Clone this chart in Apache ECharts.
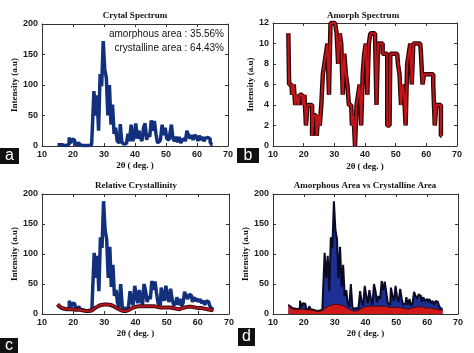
<!DOCTYPE html>
<html>
<head>
<meta charset="utf-8">
<script src="https://cdn.jsdelivr.net/npm/echarts@6/dist/echarts.min.js"></script>
<style>
html,body{margin:0;padding:0;background:#fff}
#main{width:474px;height:353px}
</style>
</head>
<body>
<div id="main"></div>
<script>
// sampling grid in 2-theta (deg.)
var deg = [
    15,15.5,16,16.5,17,17.5,18,18.5,19,19.5,
    20,20.5,21,21.5,22,22.5,23,23.5,24,24.5,
    25,25.5,26,26.5,27,27.5,28,28.5,29,29.5,
    30,30.5,31,31.5,32,32.5,33,33.5,34,34.5,
    35,35.5,36,36.5,37,37.5,38,38.5,39,39.5,
    40,40.5,41,41.5,42,42.5,43,43.5,44,44.5,
    45,45.5,46,46.5,47,47.5,48,48.5,49,49.5,
    50,50.5,51,51.5,52,52.5,53,53.5,54,54.5,
    55,55.5,56,56.5,57,57.5,58,58.5,59,59.5,
    60,60.5,61,61.5,62,62.5,63,63.5,64,64.5,
    65
];
// (a) crystal spectrum
var crystal = [
    2,2,2,2,1,2,1,3,14,5,
    11,10,2,2,6,2,1,1,2,1,
    1,1,2,30,90,50,83,25,118,98,
    172,125,112,50,100,35,68,20,30,8,
    5,36,6,3,4,3,20,8,35,8,
    15,37,12,25,14,8,30,37,10,20,
    15,42,25,41,20,5,8,12,35,18,
    30,12,10,20,35,12,8,15,6,15,
    5,10,12,8,25,18,12,18,10,18,
    15,8,17,10,15,8,13,14,12,6,
    2
];
// (b) amorph spectrum
var amorph = [
    11,6,6,5,6,4,5,4,5,5,
    4,5,2,4,4,4,1,3,3,1,
    3,2,4,7,8,9,10,5,12,12,
    12,12,11,8,11,10,5,9,7,6,
    4,4,2,3,0,4,5,6,2,7,
    9,10,5,10,11,11,11,11,4,10,
    10,10,9,9,9,2,2,9,9,9,
    9,9,8,7,4,6,5,2,8,9,
    10,6,10,10,10,10,10,9,6,7,
    7,7,7,7,7,6,2,4,4,4,
    1
];
// (c),(d) measured spectrum
var total = [
    15,12,10,9,9,8,8,10,22,12,
    18,17,9,8,13,8,7,6,6,5,
    6,5,7,40,102,60,97,38,128,110,
    188,140,125,60,112,45,82,30,40,18,
    12,50,12,8,10,8,12,38,20,15,
    47,30,18,40,25,15,50,38,20,30,
    25,55,40,54,35,18,15,44,30,22,
    47,28,20,42,25,15,18,28,15,25,
    14,18,37,30,25,33,30,20,28,22,
    25,20,25,18,22,15,22,20,15,10,
    8
];
// (c),(d) amorphous baseline
var degBase = [
    15,16,17,18,19,20,21,22,23,24,
    25,26,27,28,29,30,31,32,33,34,
    35,36,37,38,39,40,41,42,43,44,
    45,46,47,48,49,50,51,52,53,54,
    55,56,57,58,59,60,61,62,63,64,
    65
];
var amorphBase = [
    16,11,9,8,8,8,7,7,6,5,
    5,6,10,13,15,16,16,15,13,10,
    7,5,5,7,10,12,13,13,13,13,
    13,13,12,11,11,11,11,10,9,8,
    10,11,12,12,11,10,10,9,8,7,
    6
];

function pairs(xs, ys) {
    return xs.map(function (x, i) { return [x, ys[i]]; });
}

var grids = [
    {left: 42, top: 24, width: 186, height: 122},
    {left: 273, top: 23, width: 184, height: 123},
    {left: 42, top: 194, width: 187, height: 120},
    {left: 273, top: 194, width: 185, height: 120}
];
var yMax = [200, 12, 200, 200];
var yStep = [50, 2, 50, 50];
var yGap = [21, 16, 20, 21];
var xGap = [15, 16, 15, 15];

var lineCol = '#333';
var labelFont = {color: '#1a1a1a', fontSize: 9, fontFamily: 'Liberation Sans', fontWeight: 'bold'};
var nameFont = {color: '#111', fontSize: 9, fontFamily: 'Liberation Serif', fontWeight: 'bold'};

function frameAxis(extra) {
    return Object.assign({
        type: 'value',
        axisLine: {show: true, onZero: false, lineStyle: {color: lineCol, width: 1}},
        axisTick: {inside: true, length: 3, lineStyle: {color: lineCol}},
        splitLine: {show: false}
    }, extra);
}

var xAxes = [], yAxes = [];
grids.forEach(function (g, i) {
    xAxes.push(frameAxis({
        gridIndex: i, min: 10, max: 70, interval: 10, position: 'bottom',
        axisLabel: Object.assign({margin: 4}, labelFont),
        name: '2θ ( deg. )', nameLocation: 'middle', nameGap: xGap[i], nameTextStyle: nameFont
    }));
    xAxes.push(frameAxis({
        gridIndex: i, min: 10, max: 70, interval: 10, position: 'top',
        axisLabel: {show: false}
    }));
    yAxes.push(frameAxis({
        gridIndex: i, min: 0, max: yMax[i], interval: yStep[i], position: 'left',
        axisLabel: Object.assign({margin: 4}, labelFont),
        name: 'Intensity (a.u)', nameLocation: 'middle', nameGap: yGap[i], nameTextStyle: nameFont
    }));
    yAxes.push(frameAxis({
        gridIndex: i, min: 0, max: yMax[i], interval: yStep[i], position: 'right',
        axisLabel: {show: false}
    }));
});

var titleStyle = {color: '#111', fontSize: 9, fontFamily: 'Liberation Serif', fontWeight: 'bold'};
function panelTitle(text, x, y) {
    return {text: text, left: x, top: y, textAlign: 'center', padding: 0, textStyle: titleStyle};
}
function tag(letter, x, y, w, h) {
    return {
        type: 'group', children: [
            {type: 'rect', shape: {x: x, y: y, width: w, height: h}, style: {fill: '#111'}},
            {type: 'text', x: x + w / 2, y: y + h / 2,
             style: {text: letter, fill: '#fff', fontSize: 16, fontFamily: 'Liberation Sans', align: 'center', verticalAlign: 'middle'}}
        ]
    };
}

var chart = echarts.init(document.getElementById('main'));
var option = {
    backgroundColor: '#fff',
    animation: false,
    title: [
        panelTitle('Crytal Spectrum', 135, 11),
        panelTitle('Amorph Spectrum', 363, 11),
        panelTitle('Relative Crystallinity', 136, 181),
        panelTitle('Amorphous Area vs Crystalline Area', 365, 181)
    ],
    grid: grids,
    xAxis: xAxes,
    yAxis: yAxes,
    graphic: [
        {type: 'text', x: 224, y: 34, style: {text: 'amorphous area : 35.56%', fill: '#111', fontSize: 10, fontFamily: 'Liberation Sans', align: 'right', verticalAlign: 'middle'}},
        {type: 'text', x: 224, y: 48, style: {text: 'crystalline area : 64.43%', fill: '#111', fontSize: 10, fontFamily: 'Liberation Sans', align: 'right', verticalAlign: 'middle'}},
        tag('a', 0, 148, 19, 16),
        tag('b', 237, 148, 22, 15),
        tag('c', 0, 338, 18, 15),
        tag('d', 238, 328, 17, 18)
    ],
    series: [
        // a
        {type: 'line', xAxisIndex: 0, yAxisIndex: 0, data: pairs(deg, crystal), step: 'middle',
         showSymbol: false, lineStyle: {color: '#13307d', width: 3.5}},
        // b
        {type: 'line', xAxisIndex: 2, yAxisIndex: 2, data: pairs(deg, amorph), step: 'middle', clip: false,
         showSymbol: false, lineStyle: {color: '#2b0808', width: 4.5}},
        {type: 'line', xAxisIndex: 2, yAxisIndex: 2, data: pairs(deg, amorph), step: 'middle', clip: false,
         showSymbol: false, lineStyle: {color: '#c4141a', width: 2}},
        // c
        {type: 'line', xAxisIndex: 4, yAxisIndex: 4, data: pairs(deg, total), step: 'middle',
         showSymbol: false, lineStyle: {color: '#13307d', width: 3.5}},
        {type: 'line', xAxisIndex: 4, yAxisIndex: 4, data: pairs(degBase, amorphBase), smooth: 0.3,
         showSymbol: false, lineStyle: {color: '#3d0a10', width: 4}},
        {type: 'line', xAxisIndex: 4, yAxisIndex: 4, data: pairs(degBase, amorphBase), smooth: 0.3,
         showSymbol: false, lineStyle: {color: '#b3151f', width: 2}},
        // d
        {type: 'line', xAxisIndex: 6, yAxisIndex: 6, data: pairs(deg, total), step: 'middle',
         showSymbol: false, lineStyle: {color: '#0a0a25', width: 2}, areaStyle: {color: '#1b2f95', opacity: 1}},
        {type: 'line', xAxisIndex: 6, yAxisIndex: 6, data: pairs(degBase, amorphBase), smooth: 0.3,
         showSymbol: false, lineStyle: {color: '#4a0606', width: 1}, areaStyle: {color: '#d01818', opacity: 1}}
    ]
};
chart.setOption(option);
</script>
</body>
</html>
